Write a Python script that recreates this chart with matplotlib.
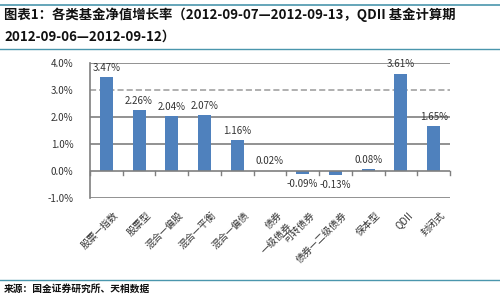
import matplotlib
matplotlib.use("Agg")
import matplotlib.pyplot as plt
from matplotlib.lines import Line2D

plt.rcParams['font.family'] = ['Noto Sans CJK SC', 'DejaVu Sans']

categories = ["股票—指数", "股票型", "混合—偏股", "混合—平衡", "混合—偏债",
              "债券\n一级债券", "可转债券", "债券—二级债券", "保本型", "QDII", "封闭式"]
values = [3.47, 2.26, 2.04, 2.07, 1.16, 0.02, -0.09, -0.13, 0.08, 3.61, 1.65]
yticks = [-1.0, 0.0, 1.0, 2.0, 3.0, 4.0]

fig = plt.figure(figsize=(5.0, 2.97), dpi=100)
ax = fig.add_axes([0.18, 0.333, 0.72, 0.455])

bar_color = "#4F81BD"
x = list(range(len(categories)))
ax.bar(x, values, width=0.4, color=bar_color, zorder=3)

ax.set_xlim(-0.5, len(categories) - 0.5)
ax.set_ylim(-1.0, 4.0)

grid_c = "#7f7f7f"
for v in yticks:
    if v == 3.0:
        ax.axhline(v, color="#9a9a9a", lw=1.1, ls=(0, (4, 2)), zorder=1)
    elif v == 0.0:
        ax.axhline(v, color=grid_c, lw=1.2, zorder=4)
    else:
        ax.axhline(v, color=grid_c, lw=1.2, zorder=1)

for s in ["top", "right", "bottom"]:
    ax.spines[s].set_visible(False)
ax.spines["left"].set_color(grid_c)
ax.spines["left"].set_linewidth(1.2)

ax.set_yticks(yticks)
ax.set_yticklabels([f"{v:.1f}%" for v in yticks], fontsize=7, color="#333333")
ax.tick_params(axis="y", length=0, pad=12)
ax.set_xticks([])

# category tick marks on the zero line
for b in [i + 0.5 for i in range(-1, len(categories))]:
    ax.plot([b, b], [0, -0.13], color=grid_c, lw=1.0, zorder=4, clip_on=False)

for xi, v in zip(x, values):
    lab = f"{v:.2f}%"
    if v >= 0:
        ax.annotate(lab, (xi, v), xytext=(0, 3), textcoords="offset points",
                    ha="center", va="bottom", fontsize=7, color="#333333", zorder=5)
    else:
        ax.annotate(lab, (xi, v), xytext=(0, -4), textcoords="offset points",
                    ha="center", va="top", fontsize=7, color="#333333", zorder=5)

for xi, c in zip(x, categories):
    ax.text(xi + 0.2, -1.45, c, rotation=45, ha="right", va="top",
            fontsize=7, color="#333333", rotation_mode="anchor", linespacing=1.6)

line_c = "#4A96AD"
fig.add_artist(Line2D([0.0, 1.0], [1 - 5 / 297, 1 - 5 / 297], color=line_c, lw=1.2))
fig.add_artist(Line2D([0.0, 1.0], [1 - 49 / 297, 1 - 49 / 297], color=line_c, lw=1.0))
fig.add_artist(Line2D([0.0, 1.0], [1 - 280 / 297, 1 - 280 / 297], color=line_c, lw=1.0))

fig.text(0.008, 1 - 15 / 297, "图表1：各类基金净值增长率（2012-09-07—2012-09-13，QDII 基金计算期",
         fontsize=9.6, fontweight="bold", color="#111111", va="center", ha="left")
fig.text(0.008, 1 - 37 / 297, "2012-09-06—2012-09-12）",
         fontsize=9.6, fontweight="bold", color="#111111", va="center", ha="left")
fig.text(0.008, 1 - 289 / 297, "来源：国金证券研究所、天相数据",
         fontsize=7, fontweight="bold", color="#111111", va="center", ha="left")

fig.savefig("out.png", dpi=100)
